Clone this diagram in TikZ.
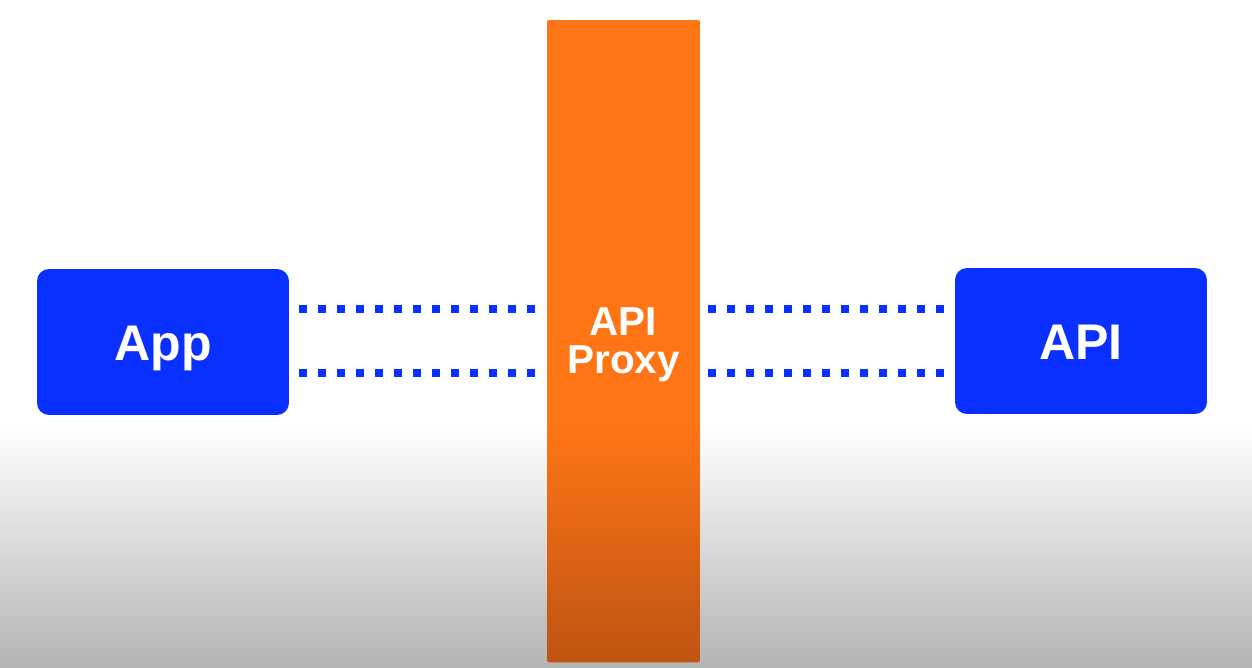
\documentclass[tikz,border=0pt]{standalone}
\usepackage{fontspec}
\setmainfont{Liberation Sans}
\usetikzlibrary{positioning}

\definecolor{boxblue}{RGB}{10,48,255}
\definecolor{proxyorange}{RGB}{255,117,22}
\definecolor{proxydark}{RGB}{190,84,18}
\definecolor{bggray}{RGB}{180,180,180}

\tikzset{
  endbox/.style={fill=boxblue, draw=none, rounded corners=0.24cm, inner sep=0pt,
    minimum width=5.04cm, minimum height=2.92cm, text=white,
    font=\bfseries\fontsize{28.5}{30}\selectfont, text height=0.73cm, text depth=0pt},
  proxybar/.style={fill=proxyorange, draw=none, rounded corners=0.06cm, inner sep=0pt,
    minimum width=3.06cm, minimum height=12.84cm, text=white, align=center,
    font=\bfseries\fontsize{23}{21.6}\selectfont, text height=1.3cm, text depth=0pt},
  link/.style={draw=boxblue, line width=0.16cm, dash pattern=on 0.16cm off 0.22cm,
    shorten <=0.2cm, shorten >=0.2cm}
}

\begin{document}
\begin{tikzpicture}[x=0.02cm, y=-0.02cm]
    % fond
    \fill[white] (0, 0) rectangle (1252, 425);
    \shade[top color=white, bottom color=bggray] (0, 425) rectangle (1252, 667);
    \useasboundingbox (0, 0) rectangle (1252, 667);

    % boites
    \node[endbox] (app) at (163, 342) {App};
    \node[endbox] (api) at (1081, 341) {API};
    \node[proxybar, fill=none] (proxy) at (623.5, 341) {};

    % barre avec degrade du bas
    \begin{scope}
      \clip[rounded corners=0.06cm] (proxy.north west) rectangle (proxy.south east);
      \fill[proxyorange] (proxy.north west) rectangle (proxy.east |- 0, 426);
      \shade[top color=proxyorange, bottom color=proxydark]
        ([xshift=0.02cm]proxy.west |- 0, 425) rectangle (proxy.south east);
    \end{scope}
    \node[proxybar, fill=none] at (proxy.center) {API\\Proxy};

    % liaisons
    \coordinate (appup) at ([yshift=0.66cm]app.east);
    \coordinate (applow) at ([yshift=-0.62cm]app.east);
    \coordinate (apiup) at ([yshift=0.64cm]api.west);
    \coordinate (apilow) at ([yshift=-0.64cm]api.west);
    \draw[link] (appup) -- (appup -| proxy.west);
    \draw[link] (applow) -- (applow -| proxy.west);
    \draw[link, shorten <=0.16cm] (apiup -| proxy.east) -- (apiup);
    \draw[link, shorten <=0.16cm] (apilow -| proxy.east) -- (apilow);
\end{tikzpicture}
\end{document}
